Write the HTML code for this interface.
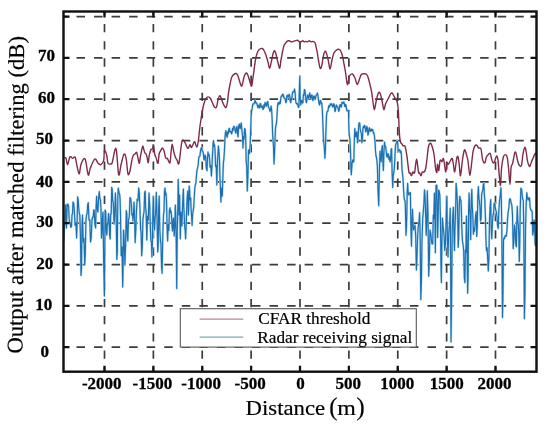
<!DOCTYPE html>
<html><head><meta charset="utf-8"><style>
html,body{margin:0;padding:0;background:#fff;}
body{width:550px;height:424px;overflow:hidden;}
svg{display:block;filter:blur(0.35px);}
.gh{stroke:#3c3c3c;stroke-width:1.7;stroke-dasharray:8.5 9.05;stroke-dashoffset:4.55;}
.gv{stroke:#3c3c3c;stroke-width:1.7;stroke-dasharray:8.3 8.88;stroke-dashoffset:4.68;}
.tl{font-family:"Liberation Serif",serif;font-weight:bold;font-size:17px;fill:#000;stroke:#000;stroke-width:0.3px;}
.ax{font-family:"Liberation Serif",serif;fill:#000;stroke:#000;stroke-width:0.2px;}
.lg{font-family:"Liberation Serif",serif;font-size:16.5px;fill:#000;stroke:#000;stroke-width:0.2px;}
</style></head><body>
<svg width="550" height="424" viewBox="0 0 550 424">
<defs><polyline id="bl" points="63.6,241.5 64.1,231.2 64.6,226.0 65.0,219.7 65.5,205.0 66.0,212.6 66.5,228.0 67.1,204.0 67.6,206.2 68.1,204.3 68.6,206.5 69.0,216.3 69.5,222.0 70.2,222.7 70.8,227.2 71.5,226.8 72.0,214.8 72.5,213.9 73.0,202.0 73.7,203.4 74.4,211.4 75.1,225.1 75.9,222.8 76.6,238.0 77.1,224.4 77.6,196.8 78.2,199.9 78.8,209.0 79.3,213.2 79.8,215.0 80.4,233.9 81.0,275.5 81.5,268.7 82.0,224.8 82.5,215.0 83.2,242.0 84.0,238.5 84.7,265.0 85.3,253.7 85.9,221.2 86.5,215.0 87.1,213.8 87.7,204.5 88.3,202.7 89.0,219.9 89.8,219.8 90.5,242.0 91.2,238.2 92.0,219.8 92.7,217.0 93.2,217.2 93.7,210.1 94.2,210.0 94.9,223.9 95.6,228.0 96.1,207.0 96.6,196.4 97.2,208.3 97.9,212.0 98.6,197.9 99.3,191.5 99.9,198.7 100.5,200.0 101.0,210.1 101.5,238.0 102.0,232.5 102.5,217.3 103.0,212.0 103.7,264.4 104.4,296.0 105.1,210.0 105.7,211.8 106.2,231.1 106.8,235.0 107.4,223.3 107.9,224.2 108.5,213.6 109.1,217.3 109.6,234.8 110.2,239.0 110.7,214.1 111.2,214.0 111.7,187.3 112.2,188.9 112.7,201.3 113.2,202.0 113.6,208.1 114.0,224.0 114.7,216.2 115.4,193.0 116.1,211.8 116.8,259.4 117.3,252.4 117.8,198.2 118.3,188.0 119.0,192.6 119.7,194.6 120.1,199.6 120.5,215.0 121.2,255.7 122.0,246.9 122.7,287.0 123.1,268.7 123.5,230.0 124.2,240.1 124.9,265.0 125.6,244.8 126.3,210.7 126.8,213.7 127.3,236.8 127.8,241.0 128.5,220.4 129.3,216.7 130.0,197.5 130.7,198.6 131.4,205.0 131.9,215.0 132.4,213.5 132.9,221.0 133.4,216.2 134.0,202.0 134.6,215.8 135.1,242.6 135.8,230.4 136.5,210.0 137.2,199.2 138.0,200.5 138.7,188.0 139.3,193.4 140.0,210.0 140.6,230.0 141.1,231.8 141.7,255.7 142.3,246.5 142.9,220.1 143.5,215.0 144.1,210.9 144.6,193.2 145.2,191.2 145.6,207.3 146.1,212.0 146.8,240.0 147.5,216.2 148.3,220.2 149.0,193.0 149.7,205.3 150.4,228.0 150.9,241.0 151.4,241.6 151.9,257.0 152.4,243.2 152.9,209.9 153.4,197.5 153.9,219.1 154.5,230.0 155.0,219.1 155.5,215.0 155.9,206.7 156.3,192.4 157.0,216.1 157.7,252.0 158.2,245.8 158.7,206.7 159.2,196.0 159.8,229.3 160.5,241.0 161.0,244.0 161.6,267.7 162.1,273.3 162.8,234.7 163.5,215.0 164.0,211.1 164.5,191.4 165.0,188.0 165.5,194.9 166.0,193.2 166.5,200.0 167.1,228.4 167.6,241.0 168.2,224.5 168.8,230.4 169.4,210.5 170.0,207.8 170.5,212.5 171.0,211.1 171.5,215.0 172.0,225.7 172.5,231.0 173.0,220.5 173.5,218.0 174.2,236.0 174.8,226.2 175.3,205.0 175.8,216.0 176.2,240.0 176.7,288.6 177.3,230.0 177.8,209.7 178.2,179.4 178.6,191.3 179.0,215.0 179.6,195.0 180.3,238.8 181.0,212.0 181.4,222.2 181.9,226.0 182.6,205.0 183.0,195.1 183.4,189.0 183.8,207.3 184.2,215.0 184.8,228.0 185.2,230.6 185.6,238.8 186.3,222.0 187.0,200.0 187.7,191.0 188.4,215.0 188.8,203.8 189.2,186.0 189.6,189.7 190.0,200.0 190.7,198.0 191.1,209.9 191.5,215.0 192.1,225.4 192.6,215.4 193.0,212.0 193.7,207.3 194.3,197.0 194.8,187.8 195.3,185.0 195.9,182.9 196.5,175.0 197.0,170.4 197.5,168.0 198.1,165.8 198.8,157.3 199.4,156.5 199.9,156.1 200.5,151.0 201.1,148.2 201.7,147.5 202.1,150.6 202.6,151.0 203.3,153.1 204.0,160.0 204.5,158.9 205.0,155.0 205.7,157.4 206.3,168.2 207.0,170.7 207.5,158.0 208.0,152.0 208.5,155.9 209.0,154.5 209.5,158.0 210.1,167.2 210.8,165.5 211.4,176.0 211.9,167.9 212.5,155.0 213.0,144.5 213.5,140.5 214.0,146.4 214.5,144.9 215.0,150.0 215.6,166.4 216.2,165.5 216.8,185.0 217.5,160.0 217.9,155.3 218.4,146.0 218.9,150.8 219.5,160.0 219.9,176.9 220.3,185.0 220.9,202.0 221.6,188.0 222.3,196.0 223.0,172.0 223.4,162.9 223.8,160.0 224.4,151.5 225.0,137.3 225.5,132.4 226.0,130.7 226.6,135.6 227.2,137.3 227.7,131.8 228.3,133.8 228.8,129.0 229.4,128.3 229.9,131.9 230.5,132.0 231.0,131.5 231.5,133.8 232.0,133.0 232.6,128.3 233.1,130.4 233.7,126.4 234.2,126.6 234.8,128.5 235.4,131.8 235.9,133.0 236.4,127.8 237.0,126.4 237.5,133.5 238.0,137.0 238.6,126.9 239.2,124.0 239.8,128.2 240.3,128.5 240.8,124.5 241.3,123.0 241.9,130.6 242.4,134.0 243.0,148.0 243.5,136.6 244.1,139.3 244.6,128.5 245.1,129.4 245.6,135.0 246.2,161.9 246.7,165.9 247.3,191.0 247.9,176.4 248.5,150.0 249.0,150.1 249.5,153.6 250.1,146.1 250.6,131.8 251.1,117.3 251.7,110.0 252.1,109.4 252.5,106.0 253.0,103.9 253.5,104.0 254.1,103.9 254.7,101.6 255.2,100.6 255.8,103.0 256.3,102.7 256.9,103.6 257.5,106.0 258.0,107.7 258.5,105.3 259.0,107.0 259.6,107.8 260.1,103.6 260.7,103.8 261.2,107.2 261.8,107.0 262.3,106.1 262.9,109.4 263.4,109.3 263.9,104.9 264.5,107.3 265.0,102.7 265.6,102.8 266.2,106.0 266.7,106.1 267.3,101.8 267.8,101.6 268.4,106.4 268.9,108.0 269.4,108.7 270.0,111.4 270.6,109.8 271.1,106.0 271.6,109.8 272.2,120.0 272.6,133.2 273.0,140.0 273.5,146.3 274.0,164.0 274.5,154.8 275.0,140.0 275.5,128.3 276.0,125.0 276.5,123.1 277.0,116.0 277.6,105.4 278.2,102.7 278.7,104.4 279.3,102.1 279.8,103.8 280.3,103.4 280.9,97.4 281.4,96.0 281.9,96.5 282.5,94.2 283.1,94.3 283.6,96.0 284.1,98.2 284.7,98.4 285.2,98.8 285.8,102.7 286.4,101.3 286.9,96.0 287.4,95.2 288.0,97.2 288.5,96.0 289.1,94.4 289.6,95.0 290.1,100.6 290.7,102.7 291.2,98.1 291.8,99.8 292.3,94.0 292.9,91.7 293.4,91.8 293.9,92.0 294.5,89.0 295.1,92.5 295.6,100.5 296.1,103.1 296.7,103.8 297.2,103.3 297.8,104.9 298.4,107.4 298.9,107.0 299.4,87.8 299.8,76.5 300.2,97.2 300.7,104.9 301.2,100.6 301.8,100.5 302.4,103.1 302.9,102.7 303.4,94.7 303.9,95.6 304.4,89.6 304.9,90.4 305.5,95.0 306.0,101.5 306.5,102.7 307.1,97.6 307.7,95.0 308.2,97.8 308.8,98.4 309.3,94.4 309.8,93.0 310.4,97.4 310.9,98.4 311.4,95.4 312.0,95.0 312.5,99.4 313.0,100.5 313.6,96.4 314.2,96.0 314.7,98.5 315.2,99.5 315.8,96.3 316.3,95.0 316.9,94.8 317.4,93.0 317.9,95.4 318.5,100.5 319.1,103.7 319.6,105.0 320.1,100.6 320.7,100.5 321.2,103.3 321.8,103.0 322.4,111.3 322.9,125.0 323.4,138.9 324.0,145.0 324.4,149.2 324.9,158.2 325.4,150.3 325.8,135.0 326.5,115.8 326.9,112.3 327.3,111.4 327.9,111.2 328.4,108.0 328.9,105.6 329.5,107.1 330.0,105.0 330.5,103.8 331.1,105.1 331.6,103.8 332.1,104.5 332.7,107.0 333.2,106.8 333.8,103.8 334.4,105.2 334.9,111.4 335.4,110.9 336.0,106.0 336.5,105.0 337.1,106.8 337.6,107.0 338.1,107.8 338.7,111.4 339.2,110.2 339.8,105.0 340.4,104.6 340.9,107.0 341.4,106.9 342.0,102.2 342.5,102.7 343.1,103.4 343.8,102.0 344.2,102.8 344.7,106.4 345.1,106.5 345.5,104.5 345.9,104.9 346.3,108.0 347.0,110.8 347.6,110.7 348.1,110.4 348.5,112.0 348.9,128.6 349.3,135.0 349.9,139.5 350.5,150.0 350.9,166.0 351.3,174.7 352.0,164.2 352.6,160.0 353.2,162.0 353.8,161.5 354.3,141.3 354.8,128.5 355.4,134.8 355.9,137.0 356.4,132.9 356.9,131.8 357.5,142.7 358.1,139.0 358.6,126.4 359.1,122.8 359.7,123.0 360.2,129.4 360.8,131.8 361.4,133.9 361.9,142.7 362.4,139.4 362.9,128.5 363.5,126.4 364.0,127.7 364.6,125.3 365.1,127.3 365.7,131.8 366.2,131.2 366.8,126.4 367.4,128.2 367.9,135.0 368.4,134.2 369.0,128.5 369.5,127.8 370.1,131.3 370.6,130.7 371.2,129.1 371.7,131.0 372.3,129.6 372.8,129.8 373.4,133.2 373.9,132.9 374.4,136.0 375.0,141.6 375.5,150.9 376.0,156.0 376.7,158.4 377.4,167.0 378.0,190.5 378.7,205.7 379.4,172.3 380.0,151.0 380.6,158.0 381.2,161.8 381.8,149.2 382.4,145.5 382.9,161.4 383.4,170.5 383.9,153.3 384.5,142.2 385.1,146.3 385.6,146.5 386.1,149.9 386.7,156.4 387.2,157.2 387.8,153.6 388.3,154.2 388.9,159.3 389.4,156.5 390.0,161.8 390.5,160.5 391.1,149.5 391.6,148.7 392.1,172.1 392.7,187.4 393.2,176.2 393.8,172.7 394.4,167.5 395.0,155.0 395.5,146.0 396.0,143.3 396.5,142.9 397.0,141.0 397.6,141.4 398.1,150.9 398.7,151.0 399.2,149.8 399.8,149.8 400.3,152.6 400.9,151.1 401.4,154.2 401.9,168.2 402.4,172.7 403.0,178.6 403.6,190.0 404.0,196.5 404.4,199.6 404.9,200.6 405.3,204.0 406.0,235.3 406.4,229.5 406.8,215.0 407.2,192.2 407.6,183.3 408.1,191.6 408.7,195.0 409.2,193.0 409.8,193.0 410.4,192.5 410.9,227.7 411.5,246.2 412.0,222.1 412.5,209.4 413.0,223.4 413.5,230.0 414.0,227.3 414.5,228.3 415.0,225.0 415.7,236.6 416.4,269.9 416.9,260.0 417.5,240.0 418.0,228.7 418.5,225.0 419.1,220.8 419.6,212.7 420.2,239.6 420.8,299.6 421.4,282.0 422.0,240.0 422.7,218.7 423.4,210.0 423.9,203.9 424.5,189.8 425.0,196.0 425.5,210.0 426.2,235.3 426.8,221.7 427.3,190.9 428.0,214.8 428.7,276.2 429.4,258.7 430.0,230.0 430.7,233.4 431.4,240.0 432.0,243.8 432.7,244.0 433.3,215.2 433.8,218.8 434.4,193.0 434.9,213.3 435.4,252.7 436.0,185.5 436.4,186.3 436.8,185.0 437.2,204.7 437.6,237.4 438.1,220.2 438.7,190.0 439.2,191.3 439.8,195.0 440.5,220.0 440.9,262.5 441.4,282.6 441.9,241.2 442.5,218.0 443.0,226.1 443.5,230.0 444.1,235.6 444.7,250.5 445.4,244.4 446.0,225.0 446.4,206.4 446.9,196.4 447.4,238.7 448.0,257.0 448.5,238.9 449.0,230.0 449.6,224.6 450.2,208.4 450.6,252.2 451.0,342.0 451.6,300.5 452.2,230.0 452.8,215.4 453.4,207.3 453.9,233.3 454.5,250.5 454.9,229.8 455.3,220.0 455.7,207.5 456.1,183.3 456.8,191.1 457.5,205.0 458.2,247.3 458.7,238.0 459.3,206.0 459.8,196.4 460.4,199.9 460.9,200.0 461.4,210.4 461.8,228.0 462.5,241.4 463.1,245.0 463.7,251.0 464.3,277.3 464.9,282.6 465.4,249.6 465.9,252.5 466.4,216.0 467.0,238.4 467.6,293.2 468.1,276.9 468.6,210.4 469.1,193.0 469.6,209.0 470.2,215.0 470.7,239.6 471.2,203.2 471.8,189.3 472.3,206.5 472.8,215.0 473.4,234.2 473.9,228.4 474.5,231.2 475.0,225.0 475.6,215.5 476.2,211.6 476.7,236.4 477.3,226.3 477.8,196.5 478.4,186.5 478.9,198.1 479.5,202.0 480.0,207.2 480.5,221.0 481.1,218.7 481.6,194.8 482.2,192.0 482.7,190.8 483.3,184.6 483.8,183.3 484.4,195.6 484.9,202.0 485.4,216.8 486.0,241.8 486.5,250.6 487.1,247.8 487.6,257.0 488.3,271.0 488.9,257.2 489.5,220.0 490.1,206.7 490.7,199.6 491.2,228.1 491.8,238.6 492.4,223.0 493.0,215.0 493.6,213.5 494.1,203.7 494.7,202.9 495.2,207.7 495.8,210.0 496.4,212.3 497.0,217.0 497.6,226.2 498.2,228.6 498.9,210.0 499.6,200.0 500.2,196.2 500.9,187.7 501.4,201.0 501.8,230.0 502.5,317.6 503.0,293.5 503.5,240.0 504.0,237.8 504.5,238.6 505.0,236.0 505.6,235.3 506.2,236.4 506.9,231.5 507.5,220.0 508.0,213.2 508.5,210.0 508.9,207.8 509.4,200.7 509.9,198.7 510.5,199.5 511.1,203.1 511.6,204.0 512.0,206.9 512.5,215.0 513.2,248.6 513.9,239.8 514.5,225.0 515.1,228.9 515.8,244.3 516.4,246.8 516.8,221.9 517.3,206.4 517.8,220.6 518.3,225.0 518.8,234.5 519.3,261.4 519.8,241.4 520.2,210.0 520.9,188.2 521.6,189.4 522.3,196.4 522.8,199.4 523.3,200.0 523.8,235.8 524.4,318.7 525.0,292.0 525.5,230.0 526.1,205.9 526.8,192.7 527.5,198.6 528.2,200.0 528.9,197.7 529.5,198.0 530.2,207.4 530.9,210.0 531.5,210.1 532.2,212.0 532.7,235.0 533.4,231.3 534.0,220.0 534.5,221.9 535.0,242.9 535.5,246.0"/><clipPath id="pc"><rect x="63.5" y="11.5" width="473.0" height="360.2"/></clipPath></defs>
<g><line x1="63.5" y1="347.20" x2="536.5" y2="347.20" class="gh"/><line x1="63.5" y1="305.87" x2="536.5" y2="305.87" class="gh"/><line x1="63.5" y1="264.54" x2="536.5" y2="264.54" class="gh"/><line x1="63.5" y1="223.21" x2="536.5" y2="223.21" class="gh"/><line x1="63.5" y1="181.88" x2="536.5" y2="181.88" class="gh"/><line x1="63.5" y1="140.55" x2="536.5" y2="140.55" class="gh"/><line x1="63.5" y1="99.22" x2="536.5" y2="99.22" class="gh"/><line x1="63.5" y1="57.89" x2="536.5" y2="57.89" class="gh"/><line x1="63.5" y1="16.56" x2="536.5" y2="16.56" class="gh"/><line x1="104.50" y1="11.5" x2="104.50" y2="371.7" class="gv"/><line x1="153.38" y1="11.5" x2="153.38" y2="371.7" class="gv"/><line x1="202.25" y1="11.5" x2="202.25" y2="371.7" class="gv"/><line x1="251.12" y1="11.5" x2="251.12" y2="371.7" class="gv"/><line x1="300.00" y1="11.5" x2="300.00" y2="371.7" class="gv"/><line x1="348.88" y1="11.5" x2="348.88" y2="371.7" class="gv"/><line x1="397.75" y1="11.5" x2="397.75" y2="371.7" class="gv"/><line x1="446.62" y1="11.5" x2="446.62" y2="371.7" class="gv"/><line x1="495.50" y1="11.5" x2="495.50" y2="371.7" class="gv"/></g>
<g clip-path="url(#pc)" fill="none" stroke-linejoin="round">
<path d="M64.5,157.6C64.8,157.7 65.5,157.1 66.0,158.3C66.5,159.5 67.1,164.9 67.7,164.7C68.3,164.5 69.0,158.0 69.8,156.9C70.6,155.8 71.8,158.3 72.6,158.3C73.4,158.3 74.2,156.8 74.7,156.9C75.2,157.0 75.0,156.2 75.7,159.0C76.4,161.8 78.1,173.0 79.0,173.8C79.9,174.6 80.1,166.4 81.1,163.9C82.1,161.4 83.9,157.2 85.1,159.0C86.3,160.8 87.3,173.5 88.2,175.0C89.1,176.5 89.2,170.9 90.3,168.2C91.4,165.5 93.5,159.8 94.8,159.0C96.1,158.2 97.1,162.2 98.1,163.2C99.1,164.1 100.0,165.2 100.9,164.7C101.8,164.2 103.1,162.8 103.7,160.4C104.3,158.0 103.9,151.4 104.4,150.5C104.9,149.6 106.0,152.7 106.6,154.8C107.2,156.9 107.3,161.7 108.0,163.2C108.7,164.7 110.1,164.0 110.8,163.9C111.5,163.8 111.5,164.8 112.2,162.5C112.9,160.2 114.3,151.7 115.0,149.8C115.7,147.9 115.9,147.0 116.5,151.2C117.1,155.3 118.0,172.4 118.7,174.7C119.5,177.0 120.2,168.3 121.0,165.0C121.8,161.7 122.9,156.7 123.6,155.0C124.3,153.3 124.8,154.2 125.3,155.0C125.8,155.8 126.0,157.3 126.4,160.0C126.8,162.7 127.2,168.6 127.5,171.0C127.8,173.4 128.1,174.9 128.5,174.7C128.9,174.5 129.6,172.4 130.2,170.0C130.8,167.6 131.3,163.0 131.8,160.5C132.3,158.0 132.9,156.1 133.4,155.0C133.9,153.9 134.6,154.4 135.1,154.0C135.6,153.6 136.2,151.8 136.7,152.4C137.1,153.0 137.4,155.5 137.8,157.3C138.2,159.1 139.0,163.5 139.4,163.3C139.8,163.1 139.9,158.8 140.5,156.0C141.1,153.2 142.1,147.5 142.7,146.4C143.2,145.3 143.4,148.5 143.8,149.6C144.2,150.7 144.5,152.3 144.9,153.0C145.3,153.7 145.6,153.3 146.0,154.0C146.4,154.7 146.7,155.9 147.1,157.3C147.5,158.8 147.8,163.1 148.2,162.7C148.6,162.3 148.9,157.2 149.3,155.0C149.8,152.8 150.4,150.7 150.9,149.6C151.4,148.5 152.1,149.1 152.5,148.5C152.9,147.9 153.2,144.9 153.6,145.8C154.0,146.7 154.2,151.9 154.7,154.0C155.1,156.1 155.8,156.8 156.3,158.4C156.9,160.0 157.5,164.0 158.0,163.3C158.5,162.6 158.7,156.1 159.1,154.0C159.5,151.9 160.2,151.7 160.7,150.7C161.2,149.7 161.8,148.0 162.3,148.0C162.9,148.0 163.4,149.1 164.0,150.7C164.6,152.3 165.0,156.5 165.6,157.8C166.2,159.1 166.9,158.0 167.3,158.4C167.8,158.8 167.9,159.8 168.3,160.5C168.8,161.2 169.5,164.1 170.0,162.7C170.5,161.2 170.7,154.9 171.1,151.8C171.5,148.7 171.8,144.2 172.2,144.2C172.6,144.2 173.3,149.6 173.8,151.8C174.3,154.0 174.9,155.9 175.4,157.3C175.9,158.7 176.4,159.1 177.0,160.0C177.6,160.9 178.2,166.1 179.0,163.0C179.8,159.9 181.0,145.2 181.9,141.7C182.8,138.1 183.5,140.6 184.5,141.7C185.5,142.8 186.9,147.8 187.8,148.3C188.7,148.8 189.4,144.7 190.0,144.6C190.6,144.5 190.8,148.0 191.5,147.5C192.2,147.0 193.7,142.1 194.4,141.7C195.1,141.3 195.4,144.2 195.8,145.0C196.2,145.8 196.7,147.7 197.1,146.8C197.5,145.9 198.1,142.6 198.5,139.5C198.9,136.4 199.3,131.7 199.7,128.5C200.1,125.3 200.4,123.0 200.8,120.5C201.2,118.0 201.4,116.2 201.9,113.5C202.4,110.8 203.0,107.0 203.7,104.5C204.4,102.0 205.2,99.8 205.9,98.5C206.6,97.2 207.3,96.9 208.1,96.9C208.9,96.9 209.8,97.5 210.5,98.5C211.2,99.5 211.8,101.5 212.5,103.0C213.2,104.5 213.9,106.6 214.6,107.3C215.3,108.0 215.9,108.2 216.5,107.0C217.1,105.8 217.5,101.9 218.0,100.0C218.5,98.1 219.0,96.2 219.5,95.8C220.0,95.4 220.5,96.5 221.0,97.5C221.5,98.5 221.9,100.5 222.5,102.0C223.1,103.5 223.8,105.3 224.4,106.2C225.0,107.1 225.6,108.0 226.1,107.3C226.6,106.6 227.1,104.4 227.5,102.0C227.9,99.6 228.1,95.8 228.5,93.0C228.9,90.2 229.3,88.0 229.8,85.5C230.3,83.0 230.9,79.7 231.5,77.9C232.1,76.1 232.8,75.3 233.6,74.6C234.4,73.9 235.7,73.3 236.4,73.5C237.1,73.7 237.5,74.7 238.0,76.0C238.5,77.3 239.0,79.5 239.6,81.2C240.2,82.9 241.1,86.8 241.8,86.1C242.5,85.4 243.3,79.2 244.0,77.0C244.7,74.8 245.6,73.3 246.2,73.0C246.8,72.7 247.3,73.8 247.8,75.0C248.3,76.2 248.8,78.2 249.4,80.0C250.0,81.8 251.0,86.8 251.6,86.1C252.2,85.4 252.6,79.7 253.2,76.0C253.8,72.3 254.4,66.8 254.9,63.7C255.4,60.6 255.5,59.2 256.0,57.2C256.5,55.2 257.1,53.2 257.7,51.8C258.3,50.4 259.2,49.5 259.9,49.0C260.6,48.5 261.4,48.2 262.1,48.5C262.8,48.8 263.4,49.4 264.0,50.5C264.6,51.6 265.2,53.1 265.9,55.0C266.6,56.9 267.4,59.8 268.0,62.0C268.6,64.2 269.1,68.4 269.7,68.2C270.3,68.0 270.9,63.4 271.5,61.0C272.1,58.6 272.5,55.7 273.0,54.0C273.5,52.3 274.1,50.5 274.6,50.7C275.1,50.9 275.7,53.1 276.2,55.0C276.7,56.9 277.2,59.8 277.8,62.0C278.4,64.2 279.2,68.5 279.7,68.2C280.2,67.9 280.5,62.7 281.0,60.0C281.5,57.3 282.0,54.4 282.5,52.0C283.0,49.6 283.5,46.9 284.0,45.5C284.5,44.1 284.9,44.2 285.4,43.5C285.9,42.8 286.4,41.9 287.0,41.4C287.6,40.9 288.5,40.7 289.2,40.8C289.9,40.9 290.7,41.8 291.4,41.9C292.1,42.0 292.6,41.6 293.2,41.4C293.8,41.2 294.5,41.0 295.2,40.8C295.9,40.6 296.8,40.2 297.4,40.3C298.0,40.4 298.5,41.1 299.0,41.4C299.5,41.7 300.0,42.0 300.6,41.9C301.2,41.8 302.2,40.8 302.8,40.8C303.4,40.8 303.9,41.8 304.4,41.9C304.9,42.0 305.4,41.4 306.0,41.4C306.6,41.4 307.1,42.0 307.7,41.9C308.2,41.8 308.8,40.8 309.3,40.8C309.9,40.8 310.4,41.8 311.0,41.9C311.6,42.0 312.1,41.4 312.6,41.4C313.2,41.4 313.9,41.5 314.3,41.9C314.8,42.2 314.9,42.0 315.3,43.5C315.8,45.0 316.4,48.3 317.0,51.2C317.6,54.1 318.1,58.1 318.6,61.0C319.2,63.9 319.7,68.0 320.3,68.6C320.9,69.1 321.5,66.5 322.0,64.3C322.5,62.1 323.0,57.7 323.5,55.5C324.0,53.3 324.6,51.4 325.2,51.2C325.8,51.0 326.3,52.8 326.8,54.4C327.3,56.0 327.8,58.6 328.4,61.0C328.9,63.4 329.5,69.0 330.1,68.8C330.7,68.6 331.4,62.6 332.0,60.0C332.6,57.4 333.2,54.6 333.9,53.0C334.6,51.4 335.2,51.1 336.0,50.5C336.8,49.9 337.8,49.3 338.5,49.3C339.2,49.3 339.8,49.3 340.5,50.5C341.2,51.7 342.0,54.2 342.6,56.5C343.2,58.8 343.5,61.4 344.0,64.0C344.5,66.6 344.9,68.6 345.5,72.0C346.1,75.4 346.7,83.8 347.4,84.5C348.1,85.2 348.6,77.8 349.5,76.0C350.4,74.2 351.6,73.7 352.5,74.0C353.4,74.3 354.2,76.2 355.0,78.0C355.8,79.8 356.4,84.3 357.2,84.5C357.9,84.7 358.9,80.6 359.5,79.0C360.1,77.4 360.4,75.9 361.0,75.0C361.6,74.1 362.3,73.9 363.2,73.8C364.1,73.7 365.6,73.5 366.5,74.2C367.4,74.9 367.7,76.0 368.3,78.0C368.9,80.0 369.8,83.7 370.3,86.0C370.9,88.3 371.2,89.3 371.6,92.0C372.1,94.7 372.5,99.0 373.0,102.0C373.5,105.0 373.9,109.8 374.4,109.8C374.9,109.8 375.4,104.5 376.0,102.0C376.6,99.5 377.2,96.1 377.8,94.5C378.4,92.9 378.9,91.9 379.5,92.3C380.1,92.7 380.7,95.0 381.2,97.0C381.7,99.0 382.2,101.9 382.6,104.0C383.1,106.1 383.4,109.8 383.9,109.8C384.4,109.8 385.0,105.5 385.5,104.0C386.0,102.5 386.4,102.1 387.0,101.0C387.6,99.9 388.2,98.7 388.8,97.5C389.4,96.3 390.0,94.8 390.5,94.0C391.0,93.2 391.5,92.8 392.0,93.0C392.5,93.2 393.0,94.5 393.6,95.5C394.2,96.5 395.0,97.8 395.6,98.9C396.2,100.0 396.8,100.2 397.2,102.0C397.6,103.8 398.0,106.2 398.3,110.0C398.6,113.8 398.8,120.3 399.0,125.0C399.2,129.7 399.5,135.1 399.8,138.0C400.1,140.9 400.4,141.5 400.7,142.5C401.0,143.5 401.4,143.2 401.8,143.8C402.2,144.4 402.6,145.4 403.2,145.8C403.8,146.2 404.5,144.7 405.1,146.5C405.7,148.3 406.4,152.4 407.0,156.6C407.6,160.8 408.4,169.2 408.9,171.9C409.4,174.6 409.8,172.4 410.2,173.0C410.6,173.6 411.1,175.9 411.5,175.7C411.9,175.5 412.3,172.5 412.8,172.0C413.3,171.5 414.0,174.6 414.6,172.5C415.2,170.4 415.9,159.3 416.5,159.2C417.1,159.1 418.0,169.7 418.5,172.0C419.0,174.3 419.3,172.6 419.7,173.2C420.1,173.8 420.6,175.9 421.0,175.7C421.4,175.5 421.8,172.6 422.3,172.0C422.8,171.4 423.6,172.7 424.2,172.0C424.8,171.3 425.3,170.5 425.8,168.0C426.3,165.5 426.8,160.5 427.2,157.0C427.6,153.5 428.0,149.2 428.4,147.0C428.8,144.8 429.3,144.0 429.8,143.5C430.3,143.0 430.7,143.2 431.2,144.0C431.7,144.8 432.2,146.5 432.6,148.0C433.0,149.5 433.5,151.0 433.8,153.0C434.1,155.0 434.4,157.3 434.7,160.0C435.0,162.7 435.3,166.9 435.7,169.0C436.1,171.1 436.6,173.3 436.9,172.5C437.2,171.7 437.2,164.6 437.5,164.3C437.8,164.0 438.4,171.2 438.8,170.6C439.2,170.0 439.6,162.0 440.1,160.5C440.6,159.0 441.5,162.0 442.0,161.7C442.5,161.4 442.9,158.1 443.3,158.5C443.7,158.9 444.1,162.1 444.5,164.3C444.9,166.5 445.4,172.1 445.8,171.9C446.2,171.7 446.7,164.3 447.1,163.0C447.5,161.7 447.9,164.6 448.4,164.3C448.9,164.0 449.7,162.0 450.3,161.0C450.9,160.0 451.7,157.9 452.2,158.5C452.7,159.1 453.0,162.1 453.4,164.3C453.8,166.5 454.2,172.8 454.7,171.9C455.2,171.1 456.1,161.8 456.6,159.2C457.1,156.6 457.5,155.8 457.9,156.6C458.3,157.4 458.8,161.1 459.2,164.3C459.6,167.5 460.0,176.3 460.5,175.7C461.0,175.1 461.8,164.7 462.4,160.5C463.0,156.3 463.8,151.8 464.3,150.3C464.8,148.8 465.2,150.7 465.6,151.5C466.0,152.3 466.1,153.4 466.5,155.0C466.9,156.6 467.4,157.6 468.0,161.0C468.6,164.4 469.2,175.6 469.9,175.6C470.5,175.6 471.3,165.2 471.9,161.0C472.4,156.8 472.6,153.3 473.2,150.7C473.8,148.1 474.5,146.4 475.2,145.5C475.9,144.6 476.6,145.1 477.1,145.5C477.6,145.9 478.0,147.6 478.4,148.0C478.8,148.4 479.2,147.8 479.7,148.0C480.1,148.2 480.7,147.6 481.1,149.4C481.6,151.2 482.0,156.4 482.4,158.6C482.8,160.8 483.3,161.8 483.7,162.5C484.1,163.2 484.6,163.4 485.0,162.5C485.4,161.6 485.8,158.6 486.3,157.3C486.9,156.0 487.7,155.3 488.3,154.6C488.9,153.9 489.7,152.6 490.2,153.3C490.7,154.0 491.1,157.1 491.5,158.6C491.9,160.1 492.4,161.8 492.8,162.5C493.2,163.2 493.7,163.2 494.1,162.5C494.6,161.8 495.1,159.7 495.5,158.6C495.9,157.5 496.4,155.6 496.8,156.0C497.2,156.4 497.7,157.7 498.1,161.2C498.5,164.7 499.0,172.9 499.4,176.9C499.8,180.9 500.1,186.5 500.5,185.0C500.9,183.5 501.1,172.3 501.6,167.7C502.1,163.1 502.7,159.5 503.3,157.3C503.9,155.1 504.7,154.6 505.3,154.6C505.9,154.6 506.7,155.1 507.2,157.3C507.7,159.5 508.0,163.2 508.5,167.7C509.0,172.2 509.6,184.5 510.0,184.5C510.4,184.5 510.7,171.1 511.1,167.7C511.5,164.2 512.0,165.5 512.5,163.8C513.0,162.1 513.4,159.3 513.8,157.3C514.2,155.3 514.7,152.4 515.1,152.0C515.5,151.6 516.0,153.1 516.4,154.6C516.8,156.1 517.2,159.3 517.7,161.2C518.2,163.1 519.1,165.2 519.7,165.8C520.4,166.5 521.1,167.0 521.6,165.1C522.1,163.2 522.4,157.5 522.9,154.6C523.4,151.7 524.3,147.8 524.9,147.4C525.5,147.0 525.8,149.7 526.2,152.0C526.6,154.3 527.0,158.8 527.5,161.2C528.0,163.6 529.0,166.0 529.5,166.4C530.0,166.8 530.2,165.1 530.8,163.8C531.3,162.5 532.0,160.3 532.8,158.6C533.6,156.8 534.8,154.0 535.4,153.3C536.0,152.6 536.3,154.4 536.5,154.6" stroke="#802b49" stroke-width="1.4"/>
<use href="#bl" stroke="#b4daf0" stroke-width="2.2"/>
<use href="#bl" stroke="#1c70b2" stroke-width="1.15"/>
</g>
<rect x="180.3" y="308.7" width="236" height="38.4" fill="#fff" stroke="#5a5a5a" stroke-width="1.1"/>
<line x1="199.6" y1="319.1" x2="243.3" y2="319.1" stroke="#b58a95" stroke-width="1.3"/>
<line x1="199.6" y1="337.2" x2="243.3" y2="337.2" stroke="#7fa9b5" stroke-width="1.3"/>
<text x="258.2" y="324.2" class="lg" textLength="112.2" lengthAdjust="spacingAndGlyphs">CFAR threshold</text>
<text x="257.3" y="342.9" class="lg" textLength="155" lengthAdjust="spacingAndGlyphs">Radar receiving signal</text>
<rect x="63.5" y="11.5" width="473.0" height="360.2" fill="none" stroke="#111" stroke-width="2.45"/>
<path d="M63.5,347.20h6M536.5,347.20h-6M63.5,305.87h6M536.5,305.87h-6M63.5,264.54h6M536.5,264.54h-6M63.5,223.21h6M536.5,223.21h-6M63.5,181.88h6M536.5,181.88h-6M63.5,140.55h6M536.5,140.55h-6M63.5,99.22h6M536.5,99.22h-6M63.5,57.89h6M536.5,57.89h-6M63.5,16.56h6M536.5,16.56h-6M104.50,371.7v-6M104.50,11.5v6M153.38,371.7v-6M153.38,11.5v6M202.25,371.7v-6M202.25,11.5v6M251.12,371.7v-6M251.12,11.5v6M300.00,371.7v-6M300.00,11.5v6M348.88,371.7v-6M348.88,11.5v6M397.75,371.7v-6M397.75,11.5v6M446.62,371.7v-6M446.62,11.5v6M495.50,371.7v-6M495.50,11.5v6" stroke="#111" stroke-width="2.3" fill="none"/>
<text x="46.55" y="61.3" class="tl" text-anchor="middle">70</text><text x="46.55" y="103.3" class="tl" text-anchor="middle">60</text><text x="44.45" y="144.3" class="tl" text-anchor="middle">50</text><text x="44.45" y="186.7" class="tl" text-anchor="middle">40</text><text x="44.7" y="227.1" class="tl" text-anchor="middle">30</text><text x="44.7" y="269.2" class="tl" text-anchor="middle">20</text><text x="43.65" y="309.6" class="tl" text-anchor="middle">10</text><text x="44.85" y="357.0" class="tl" text-anchor="middle">0</text>
<text x="101.8" y="389.3" class="tl" text-anchor="middle">-2000</text><text x="152.4" y="389.3" class="tl" text-anchor="middle">-1500</text><text x="201.2" y="389.3" class="tl" text-anchor="middle">-1000</text><text x="250.1" y="389.3" class="tl" text-anchor="middle">-500</text><text x="300.4" y="389.3" class="tl" text-anchor="middle">0</text><text x="348.2" y="389.3" class="tl" text-anchor="middle">500</text><text x="397.2" y="389.3" class="tl" text-anchor="middle">1000</text><text x="446.8" y="389.3" class="tl" text-anchor="middle">1500</text><text x="494.5" y="389.3" class="tl" text-anchor="middle">2000</text>
<text x="245.6" y="415.3" class="ax" font-size="22" textLength="79.5" lengthAdjust="spacingAndGlyphs">Distance</text><text x="329.2" y="414.6" class="ax" font-size="24.5">(</text><text x="337.2" y="415.3" class="ax" font-size="22" textLength="18.6" lengthAdjust="spacingAndGlyphs">m</text><text x="356.6" y="414.6" class="ax" font-size="24.5">)</text>
<text transform="translate(23.3,194.8) rotate(-89.75)" class="ax" font-size="22.6" text-anchor="middle">Output after matched filtering (dB)</text>
</svg>
</body></html>
